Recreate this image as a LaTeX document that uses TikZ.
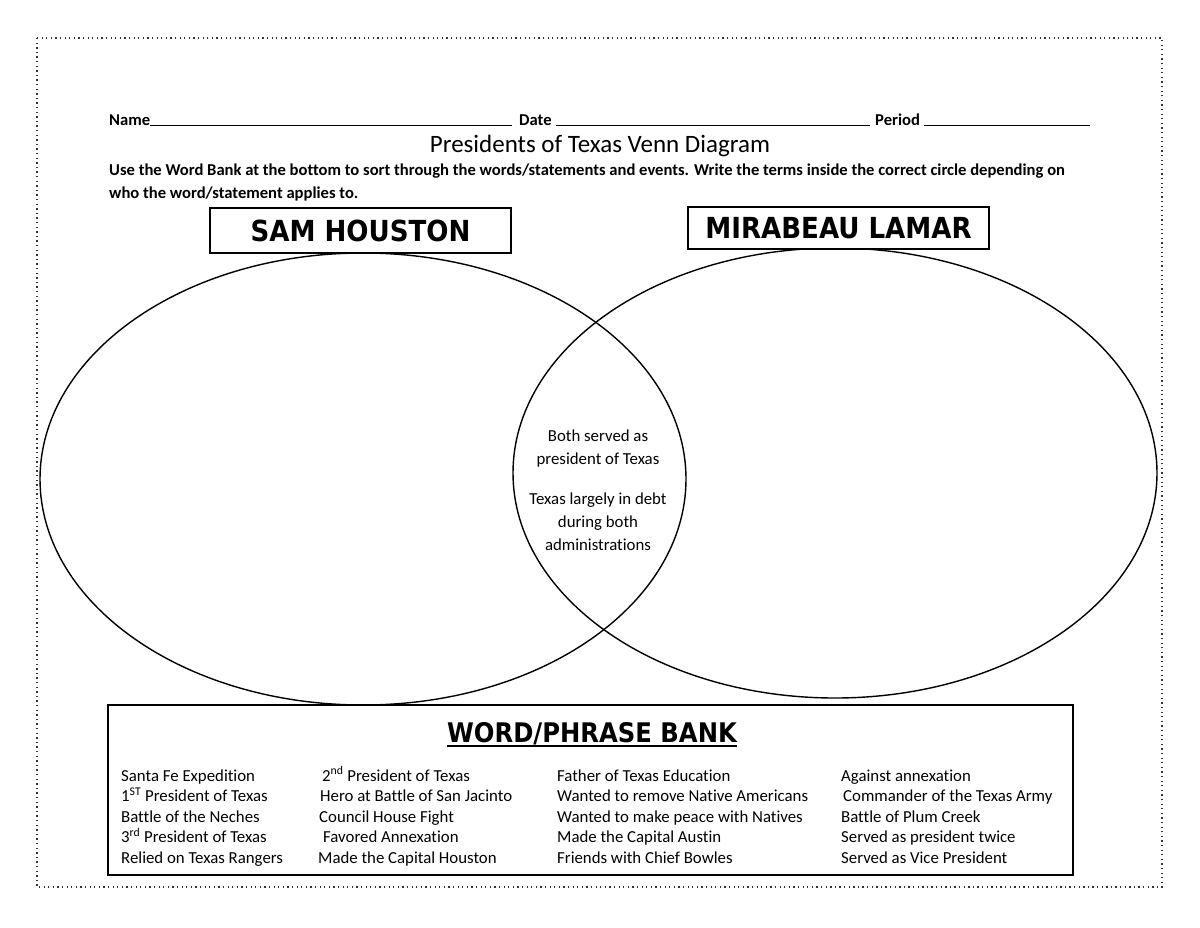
\documentclass[tikz,border=0pt]{standalone}
\usepackage{fontspec}
\setmainfont{Carlito}[Ligatures=NoCommon]
\newfontfamily\headfont{DejaVu Sans Condensed}
\usetikzlibrary{positioning}

\tikzset{
    namebox/.style={draw, line width=1.6pt, minimum width=301pt, inner sep=0pt,
        font=\headfont\bfseries\fontsize{29}{29}\selectfont},
    header/.style={anchor=base west, inner sep=0pt, font=\bfseries\fontsize{16.6}{18}\selectfont},
    bank/.style={anchor=base west, inner sep=0pt, font=\fontsize{16.8}{18}\selectfont},
    middle/.style={align=center, inner sep=0pt, font=\fontsize{16.8}{23}\selectfont},
    blank/.style={line width=0.7pt}
}

\begin{document}
\begin{tikzpicture}[x=1pt, y=-1pt]
    \useasboundingbox (0,0) rectangle (1200,927);

    % Page border
    \draw[line width=1.3pt, dash pattern=on 1.3pt off 3.3pt, black!80] (37,38) rectangle (1162,887);

    % Name, date and period line
    \node[header] (name) at (109,125) {Name};
    \coordinate (nameend) at (512,125);
    \node[header] (date) at (519,125) {Date};
    \coordinate (dateend) at (870,125);
    \node[header] (period) at (875,125) {Period};
    \coordinate (periodend) at (1090,125);
    \draw[blank] (name.base east) -- (nameend);
    \draw[blank] ([xshift=4pt]date.base east) -- (dateend);
    \draw[blank] ([xshift=4pt]period.base east) -- (periodend);

    % Title and instructions
    \node[anchor=base, inner sep=0pt, font=\fontsize{25}{28}\selectfont] (title) at (600,152)
        {Presidents of Texas Venn Diagram};
    \node[header] (instr1) at (109,175) {Use the Word Bank at the bottom to sort through the words/statements and events. Write the terms inside the correct circle depending on};
    \node[header] (instr2) at (109,198) {who the word/statement applies to.};

    % The two circles
    \draw[line width=1.4pt] (363,479) ellipse [x radius=323pt, y radius=226pt];
    \draw[line width=1.4pt] (835,473) ellipse [x radius=322pt, y radius=225pt];

    % Name boxes
    \node[namebox, fill=white, minimum height=45pt] (houston) at (360.5,230.5) {SAM HOUSTON};
    \node[namebox, fill=white, minimum height=42pt] (lamar) at (838.5,228) {MIRABEAU LAMAR};

    % Shared facts
    \node[middle] (both1) at (598,449) {Both served as\\president of Texas};
    \node[middle, below=25pt of both1] (both2) {Texas largely in debt\\during both\\administrations};

    % Word bank
    \node[draw, line width=1.6pt, fill=white, minimum width=965pt, minimum height=170pt] (bankbox) at (590.5,790) {};
    \node[anchor=base, inner sep=0pt, font=\headfont\bfseries\fontsize{27}{27}\selectfont] (banktitle) at (592,742) {WORD/PHRASE BANK};
    \draw[line width=2pt] ([yshift=-3.5pt]banktitle.base west) -- ([yshift=-3.5pt]banktitle.base east);

    \foreach \x/\txt [count=\r] in {121/Santa Fe Expedition, 121/1\textsuperscript{ST} President of Texas,
        121/Battle of the Neches, 121/3\textsuperscript{rd} President of Texas, 121/Relied on Texas Rangers}
        \node[bank] (wa-\r) at (\x,760.5+20.5*\r) {\txt};
    \foreach \x/\txt [count=\r] in {322/2\textsuperscript{nd} President of Texas, 320/Hero at Battle of San Jacinto,
        319/Council House Fight, 323/Favored Annexation, 318/Made the Capital Houston}
        \node[bank] (wb-\r) at (\x,760.5+20.5*\r) {\txt};
    \foreach \x/\txt [count=\r] in {557/Father of Texas Education, 557/Wanted to remove Native Americans,
        557/Wanted to make peace with Natives, 557/Made the Capital Austin, 557/Friends with Chief Bowles}
        \node[bank] (wc-\r) at (\x,760.5+20.5*\r) {\txt};
    \foreach \x/\txt [count=\r] in {841/Against annexation, 843/Commander of the Texas Army,
        841/Battle of Plum Creek, 841/Served as president twice, 841/Served as Vice President}
        \node[bank] (wd-\r) at (\x,760.5+20.5*\r) {\txt};
\end{tikzpicture}
\end{document}
